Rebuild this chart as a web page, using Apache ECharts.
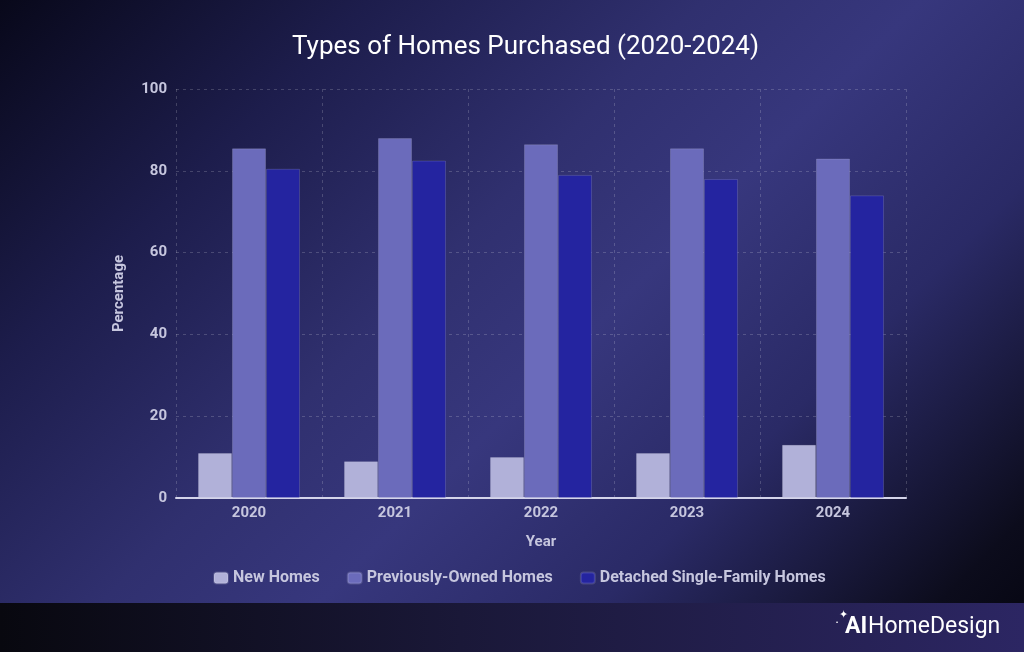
<!DOCTYPE html>
<html>
<head>
<meta charset="utf-8">
<script src="https://cdn.jsdelivr.net/npm/echarts@6/dist/echarts.min.js"></script>
<style>
  html, body { margin: 0; padding: 0; }
  body {
    width: 1024px;
    height: 652px;
    overflow: hidden;
    background: linear-gradient(135deg, #08081a 0%, #1d1d4c 22%, #30306f 42%, #37377d 55%, #2a2a66 72%, #0c0c1c 92%, #050510 100%);
  }
  #chart { width: 1024px; height: 652px; }
</style>
</head>
<body>
<div id="chart"></div>
<script>
const years = ["2020", "2021", "2022", "2023", "2024"];
const newHomes = [11, 9, 10, 11, 13];
const previouslyOwned = [85.5, 88, 86.5, 85.5, 83];
const detachedSingleFamily = [80.5, 82.5, 79, 78, 74];
const yTicks = [0, 20, 40, 60, 80, 100];

const chart = echarts.init(document.getElementById("chart"));

const labelColor = "#c6c6de";
const barBorder = "rgba(255,255,255,0.14)";

const makeBar = (name, data, color) => ({
  name: name,
  type: "bar",
  data: data,
  barWidth: 34,
  barGap: "0%",
  itemStyle: { color: color, borderColor: barBorder, borderWidth: 1 },
});

chart.setOption({
  backgroundColor: "transparent",
  textStyle: { fontFamily: "Roboto" },
  title: {
    text: "Types of Homes Purchased (2020-2024)",
    left: 287,
    top: 29,
    textStyle: { color: "#ffffff", fontSize: 26, fontWeight: "normal", fontFamily: "Roboto" },
  },
  grid: { left: 176, right: 118, top: 89, bottom: 154 },
  legend: {
    top: 565,
    left: 208,
    itemWidth: 14,
    itemHeight: 11,
    itemGap: 27,
    textStyle: { color: labelColor, fontSize: 16, fontWeight: "bold" },
  },
  xAxis: {
    type: "category",
    data: years,
    name: "Year",
    nameLocation: "middle",
    nameGap: 37,
    nameTextStyle: { color: labelColor, fontSize: 15, fontWeight: "bold" },
    axisLine: { lineStyle: { color: "#d4d4ea", width: 2 } },
    axisTick: { show: false },
    axisLabel: { color: labelColor, fontSize: 15, fontWeight: "bold", margin: 8 },
    splitLine: {
      show: true,
      interval: 0,
      lineStyle: { color: "rgba(255,255,255,0.18)", type: [3, 4] },
    },
  },
  yAxis: {
    type: "value",
    min: yTicks[0],
    max: yTicks[yTicks.length - 1],
    interval: yTicks[1] - yTicks[0],
    name: "Percentage",
    nameLocation: "middle",
    nameGap: 49,
    nameTextStyle: { color: labelColor, fontSize: 15, fontWeight: "bold" },
    axisLine: { show: false },
    axisTick: { show: false },
    axisLabel: { color: labelColor, fontSize: 15, fontWeight: "bold", margin: 9 },
    splitLine: { lineStyle: { color: "rgba(255,255,255,0.18)", type: [3, 4] } },
  },
  series: [
    makeBar("New Homes", newHomes, "#b1b1d9"),
    makeBar("Previously-Owned Homes", previouslyOwned, "#6b6bbb"),
    makeBar("Detached Single-Family Homes", detachedSingleFamily, "#2424a0"),
  ],
  graphic: [
    {
      type: "rect",
      left: 0,
      top: 603,
      shape: { width: 1024, height: 49 },
      style: {
        fill: new echarts.graphic.LinearGradient(0, 0, 1, 0, [
          { offset: 0, color: "#08080f" },
          { offset: 0.45, color: "#1a1838" },
          { offset: 1, color: "#2c2663" },
        ]),
      },
      z: 0,
    },
    {
      type: "text",
      left: 839,
      top: 609,
      style: { text: "✦", fill: "#ffffff", fontSize: 11 },
      z: 5,
    },
    {
      type: "text",
      left: 836,
      top: 619,
      style: { text: "•", fill: "#ffffff", fontSize: 6 },
      z: 5,
    },
    {
      type: "text",
      left: 845,
      top: 616,
      style: { text: "AI", fill: "#ffffff", fontSize: 23, fontWeight: "bold", fontFamily: "Roboto" },
      z: 5,
    },
    {
      type: "text",
      left: 868,
      top: 616,
      style: { text: "HomeDesign", fill: "#ffffff", fontSize: 23, fontFamily: "Roboto" },
      z: 5,
    },
  ],
});
</script>
</body>
</html>
